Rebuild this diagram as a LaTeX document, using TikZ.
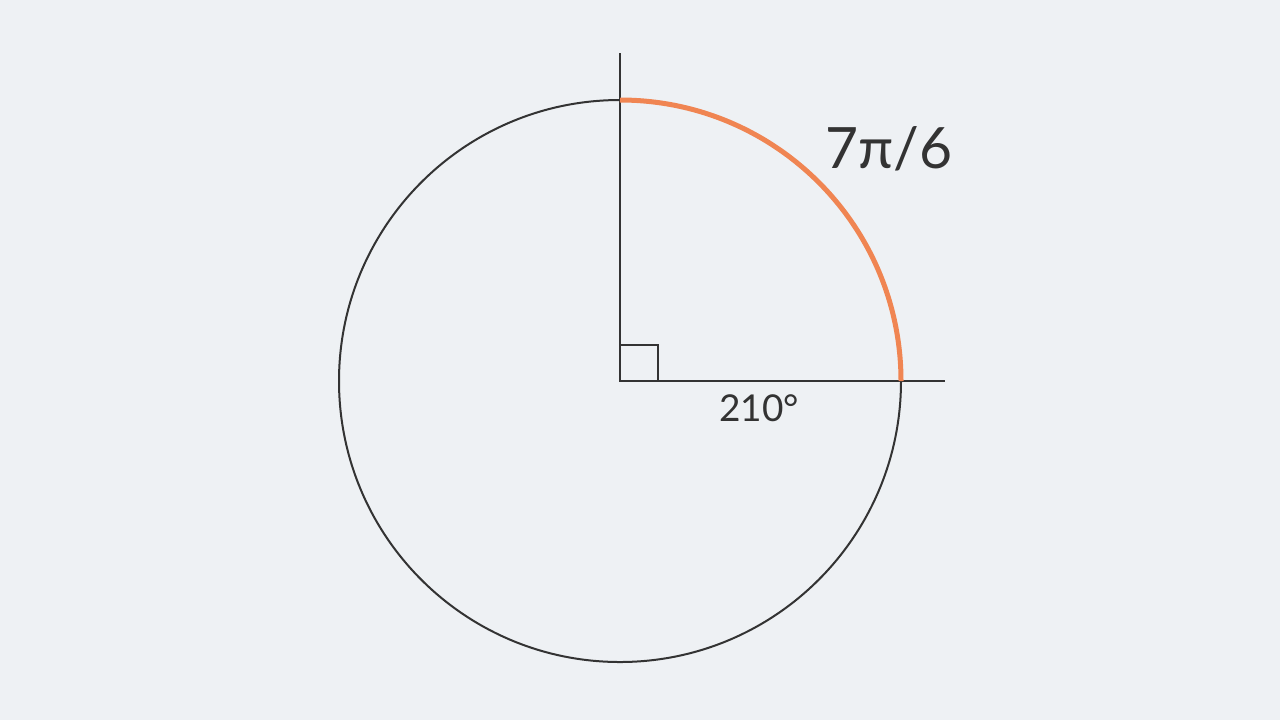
\documentclass[tikz,border=0pt]{standalone}
\usepackage{fontspec}
\setmainfont{Lato}
\definecolor{bg}{HTML}{EEF1F4}
\definecolor{ink}{HTML}{333333}
\definecolor{arcor}{HTML}{F08552}
\begin{document}
\begin{tikzpicture}[x=0.5pt,y=-0.5pt,
  thin line/.style={draw=ink,line width=1pt},
  lbl/.style={text=ink,inner sep=0pt}]
\fill[bg] (0,0) rectangle (1280,720);
\useasboundingbox (0,0) rectangle (1280,720);
\coordinate (O) at (620,381);
\coordinate (T) at (620,53);
\coordinate (R) at (945,381);
\draw[thin line] (O) circle[radius=281];
\draw[thin line] (T) -- (O) -- (R);
\draw[thin line] (620,345) -- (658,345) -- (658,381);
\draw[draw=arcor,line width=2.5pt] (620,100) arc[start angle=-90,end angle=0,radius=281];
\node[lbl,font=\fontsize{28.5}{32}\selectfont] (ang) at (889,149) {7π/6};
\node[lbl,font=\fontsize{18.5}{22}\selectfont] (deg) at (759,408) {210°};
\end{tikzpicture}
\end{document}
